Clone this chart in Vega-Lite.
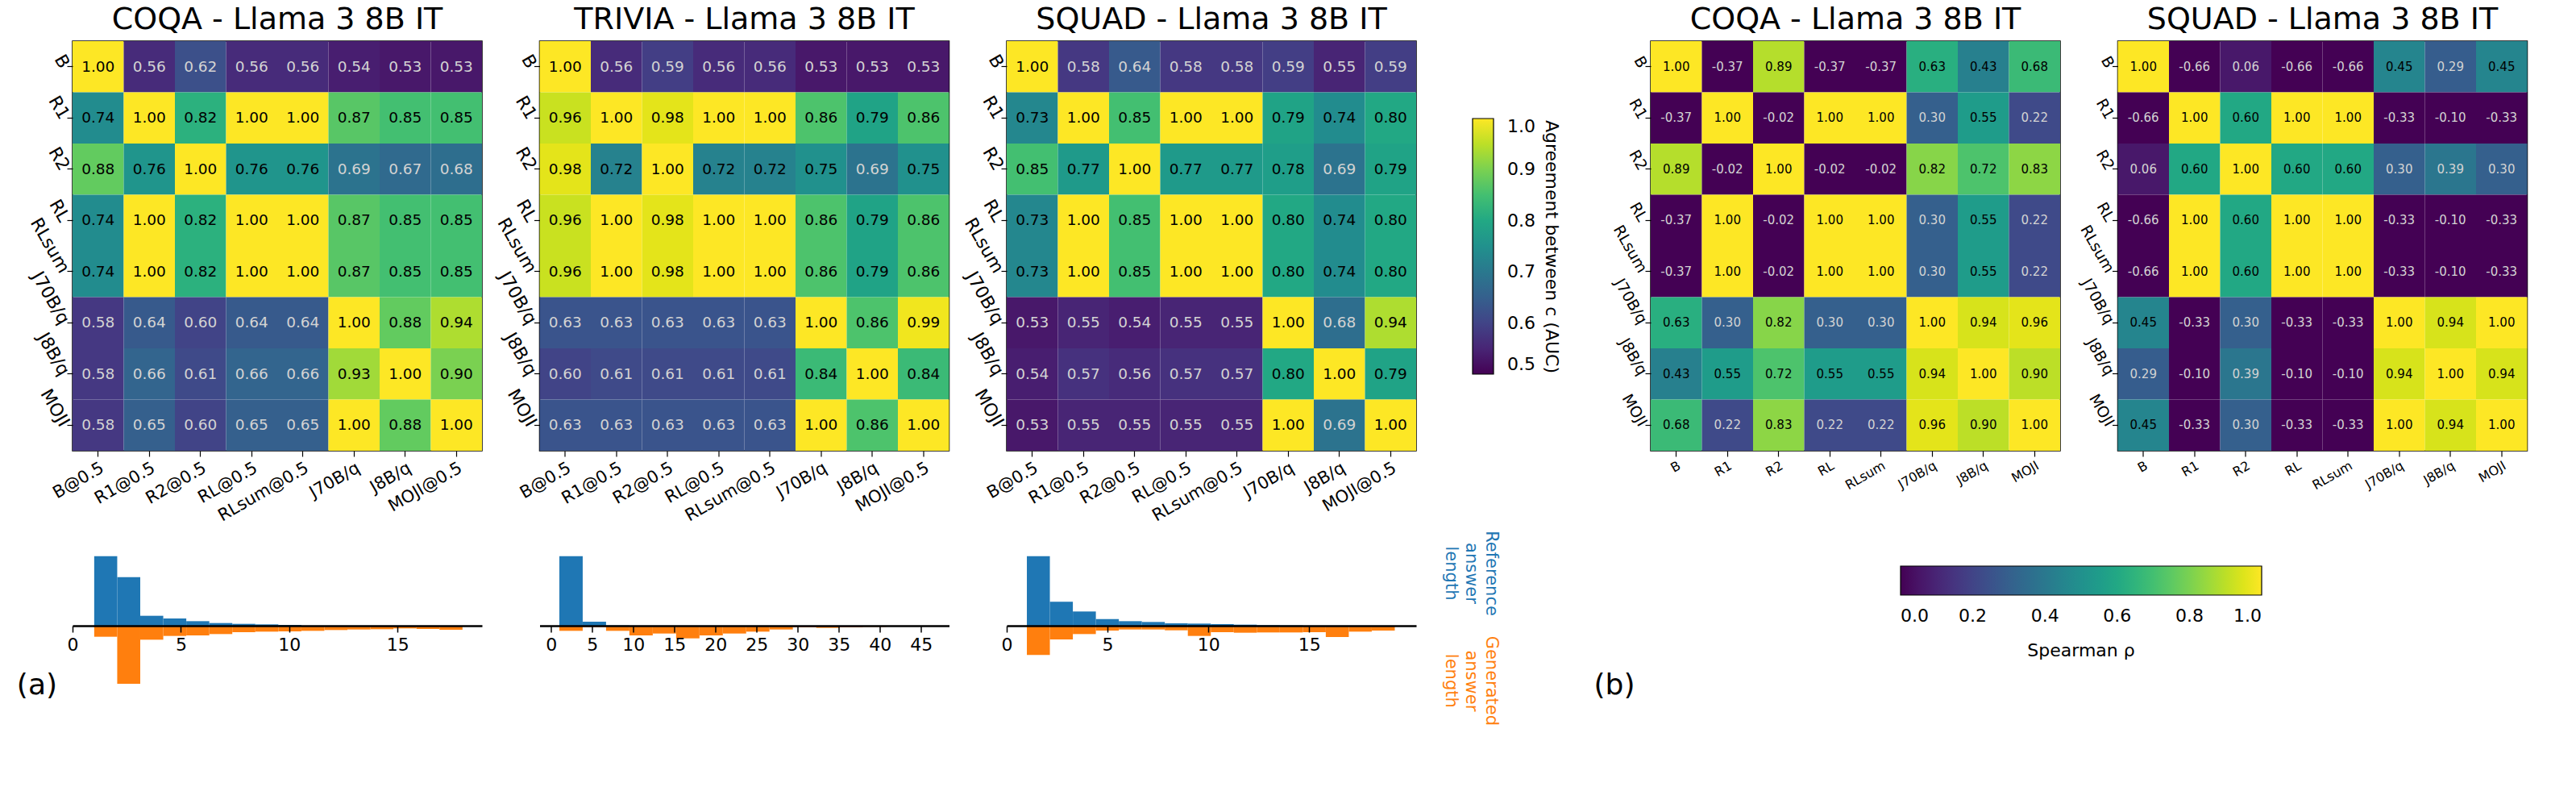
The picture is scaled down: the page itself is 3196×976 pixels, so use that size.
{
"$schema": "https://vega.github.io/schema/vega-lite/v6.json",
"background": "white",
"padding": {"left": 20, "top": 5, "right": 5, "bottom": 5},
"config": {
 "font": "DejaVu Sans",
 "view": {"stroke": "black", "strokeWidth": 1.5},
 "axis": {"labelFont": "DejaVu Sans", "labelColor": "black", "tickColor": "black", "domainColor": "black", "grid": false},
 "legend": {"labelFont": "DejaVu Sans", "titleFont": "DejaVu Sans", "labelColor": "black", "titleColor": "black"},
 "title": {"font": "DejaVu Sans", "fontWeight": "normal", "color": "black"},
 "text": {"font": "DejaVu Sans"},
 "locale": {"number": {"decimal": ".", "thousands": ",", "grouping": [3], "currency": ["$", ""], "minus": "-"}}
},
"datasets": {
 "coqa_auc": [
  {"r":"B","c":"B@0.5","v":1.00},{"r":"B","c":"R1@0.5","v":0.56},{"r":"B","c":"R2@0.5","v":0.62},{"r":"B","c":"RL@0.5","v":0.56},{"r":"B","c":"RLsum@0.5","v":0.56},{"r":"B","c":"J70B/q","v":0.54},{"r":"B","c":"J8B/q","v":0.53},{"r":"B","c":"MOJI@0.5","v":0.53},
  {"r":"R1","c":"B@0.5","v":0.74},{"r":"R1","c":"R1@0.5","v":1.00},{"r":"R1","c":"R2@0.5","v":0.82},{"r":"R1","c":"RL@0.5","v":1.00},{"r":"R1","c":"RLsum@0.5","v":1.00},{"r":"R1","c":"J70B/q","v":0.87},{"r":"R1","c":"J8B/q","v":0.85},{"r":"R1","c":"MOJI@0.5","v":0.85},
  {"r":"R2","c":"B@0.5","v":0.88},{"r":"R2","c":"R1@0.5","v":0.76},{"r":"R2","c":"R2@0.5","v":1.00},{"r":"R2","c":"RL@0.5","v":0.76},{"r":"R2","c":"RLsum@0.5","v":0.76},{"r":"R2","c":"J70B/q","v":0.69},{"r":"R2","c":"J8B/q","v":0.67},{"r":"R2","c":"MOJI@0.5","v":0.68},
  {"r":"RL","c":"B@0.5","v":0.74},{"r":"RL","c":"R1@0.5","v":1.00},{"r":"RL","c":"R2@0.5","v":0.82},{"r":"RL","c":"RL@0.5","v":1.00},{"r":"RL","c":"RLsum@0.5","v":1.00},{"r":"RL","c":"J70B/q","v":0.87},{"r":"RL","c":"J8B/q","v":0.85},{"r":"RL","c":"MOJI@0.5","v":0.85},
  {"r":"RLsum","c":"B@0.5","v":0.74},{"r":"RLsum","c":"R1@0.5","v":1.00},{"r":"RLsum","c":"R2@0.5","v":0.82},{"r":"RLsum","c":"RL@0.5","v":1.00},{"r":"RLsum","c":"RLsum@0.5","v":1.00},{"r":"RLsum","c":"J70B/q","v":0.87},{"r":"RLsum","c":"J8B/q","v":0.85},{"r":"RLsum","c":"MOJI@0.5","v":0.85},
  {"r":"J70B/q","c":"B@0.5","v":0.58},{"r":"J70B/q","c":"R1@0.5","v":0.64},{"r":"J70B/q","c":"R2@0.5","v":0.60},{"r":"J70B/q","c":"RL@0.5","v":0.64},{"r":"J70B/q","c":"RLsum@0.5","v":0.64},{"r":"J70B/q","c":"J70B/q","v":1.00},{"r":"J70B/q","c":"J8B/q","v":0.88},{"r":"J70B/q","c":"MOJI@0.5","v":0.94},
  {"r":"J8B/q","c":"B@0.5","v":0.58},{"r":"J8B/q","c":"R1@0.5","v":0.66},{"r":"J8B/q","c":"R2@0.5","v":0.61},{"r":"J8B/q","c":"RL@0.5","v":0.66},{"r":"J8B/q","c":"RLsum@0.5","v":0.66},{"r":"J8B/q","c":"J70B/q","v":0.93},{"r":"J8B/q","c":"J8B/q","v":1.00},{"r":"J8B/q","c":"MOJI@0.5","v":0.90},
  {"r":"MOJI","c":"B@0.5","v":0.58},{"r":"MOJI","c":"R1@0.5","v":0.65},{"r":"MOJI","c":"R2@0.5","v":0.60},{"r":"MOJI","c":"RL@0.5","v":0.65},{"r":"MOJI","c":"RLsum@0.5","v":0.65},{"r":"MOJI","c":"J70B/q","v":1.00},{"r":"MOJI","c":"J8B/q","v":0.88},{"r":"MOJI","c":"MOJI@0.5","v":1.00}
 ],
 "trivia_auc": [
  {"r":"B","c":"B@0.5","v":1.00},{"r":"B","c":"R1@0.5","v":0.56},{"r":"B","c":"R2@0.5","v":0.59},{"r":"B","c":"RL@0.5","v":0.56},{"r":"B","c":"RLsum@0.5","v":0.56},{"r":"B","c":"J70B/q","v":0.53},{"r":"B","c":"J8B/q","v":0.53},{"r":"B","c":"MOJI@0.5","v":0.53},
  {"r":"R1","c":"B@0.5","v":0.96},{"r":"R1","c":"R1@0.5","v":1.00},{"r":"R1","c":"R2@0.5","v":0.98},{"r":"R1","c":"RL@0.5","v":1.00},{"r":"R1","c":"RLsum@0.5","v":1.00},{"r":"R1","c":"J70B/q","v":0.86},{"r":"R1","c":"J8B/q","v":0.79},{"r":"R1","c":"MOJI@0.5","v":0.86},
  {"r":"R2","c":"B@0.5","v":0.98},{"r":"R2","c":"R1@0.5","v":0.72},{"r":"R2","c":"R2@0.5","v":1.00},{"r":"R2","c":"RL@0.5","v":0.72},{"r":"R2","c":"RLsum@0.5","v":0.72},{"r":"R2","c":"J70B/q","v":0.75},{"r":"R2","c":"J8B/q","v":0.69},{"r":"R2","c":"MOJI@0.5","v":0.75},
  {"r":"RL","c":"B@0.5","v":0.96},{"r":"RL","c":"R1@0.5","v":1.00},{"r":"RL","c":"R2@0.5","v":0.98},{"r":"RL","c":"RL@0.5","v":1.00},{"r":"RL","c":"RLsum@0.5","v":1.00},{"r":"RL","c":"J70B/q","v":0.86},{"r":"RL","c":"J8B/q","v":0.79},{"r":"RL","c":"MOJI@0.5","v":0.86},
  {"r":"RLsum","c":"B@0.5","v":0.96},{"r":"RLsum","c":"R1@0.5","v":1.00},{"r":"RLsum","c":"R2@0.5","v":0.98},{"r":"RLsum","c":"RL@0.5","v":1.00},{"r":"RLsum","c":"RLsum@0.5","v":1.00},{"r":"RLsum","c":"J70B/q","v":0.86},{"r":"RLsum","c":"J8B/q","v":0.79},{"r":"RLsum","c":"MOJI@0.5","v":0.86},
  {"r":"J70B/q","c":"B@0.5","v":0.63},{"r":"J70B/q","c":"R1@0.5","v":0.63},{"r":"J70B/q","c":"R2@0.5","v":0.63},{"r":"J70B/q","c":"RL@0.5","v":0.63},{"r":"J70B/q","c":"RLsum@0.5","v":0.63},{"r":"J70B/q","c":"J70B/q","v":1.00},{"r":"J70B/q","c":"J8B/q","v":0.86},{"r":"J70B/q","c":"MOJI@0.5","v":0.99},
  {"r":"J8B/q","c":"B@0.5","v":0.60},{"r":"J8B/q","c":"R1@0.5","v":0.61},{"r":"J8B/q","c":"R2@0.5","v":0.61},{"r":"J8B/q","c":"RL@0.5","v":0.61},{"r":"J8B/q","c":"RLsum@0.5","v":0.61},{"r":"J8B/q","c":"J70B/q","v":0.84},{"r":"J8B/q","c":"J8B/q","v":1.00},{"r":"J8B/q","c":"MOJI@0.5","v":0.84},
  {"r":"MOJI","c":"B@0.5","v":0.63},{"r":"MOJI","c":"R1@0.5","v":0.63},{"r":"MOJI","c":"R2@0.5","v":0.63},{"r":"MOJI","c":"RL@0.5","v":0.63},{"r":"MOJI","c":"RLsum@0.5","v":0.63},{"r":"MOJI","c":"J70B/q","v":1.00},{"r":"MOJI","c":"J8B/q","v":0.86},{"r":"MOJI","c":"MOJI@0.5","v":1.00}
 ],
 "squad_auc": [
  {"r":"B","c":"B@0.5","v":1.00},{"r":"B","c":"R1@0.5","v":0.58},{"r":"B","c":"R2@0.5","v":0.64},{"r":"B","c":"RL@0.5","v":0.58},{"r":"B","c":"RLsum@0.5","v":0.58},{"r":"B","c":"J70B/q","v":0.59},{"r":"B","c":"J8B/q","v":0.55},{"r":"B","c":"MOJI@0.5","v":0.59},
  {"r":"R1","c":"B@0.5","v":0.73},{"r":"R1","c":"R1@0.5","v":1.00},{"r":"R1","c":"R2@0.5","v":0.85},{"r":"R1","c":"RL@0.5","v":1.00},{"r":"R1","c":"RLsum@0.5","v":1.00},{"r":"R1","c":"J70B/q","v":0.79},{"r":"R1","c":"J8B/q","v":0.74},{"r":"R1","c":"MOJI@0.5","v":0.80},
  {"r":"R2","c":"B@0.5","v":0.85},{"r":"R2","c":"R1@0.5","v":0.77},{"r":"R2","c":"R2@0.5","v":1.00},{"r":"R2","c":"RL@0.5","v":0.77},{"r":"R2","c":"RLsum@0.5","v":0.77},{"r":"R2","c":"J70B/q","v":0.78},{"r":"R2","c":"J8B/q","v":0.69},{"r":"R2","c":"MOJI@0.5","v":0.79},
  {"r":"RL","c":"B@0.5","v":0.73},{"r":"RL","c":"R1@0.5","v":1.00},{"r":"RL","c":"R2@0.5","v":0.85},{"r":"RL","c":"RL@0.5","v":1.00},{"r":"RL","c":"RLsum@0.5","v":1.00},{"r":"RL","c":"J70B/q","v":0.80},{"r":"RL","c":"J8B/q","v":0.74},{"r":"RL","c":"MOJI@0.5","v":0.80},
  {"r":"RLsum","c":"B@0.5","v":0.73},{"r":"RLsum","c":"R1@0.5","v":1.00},{"r":"RLsum","c":"R2@0.5","v":0.85},{"r":"RLsum","c":"RL@0.5","v":1.00},{"r":"RLsum","c":"RLsum@0.5","v":1.00},{"r":"RLsum","c":"J70B/q","v":0.80},{"r":"RLsum","c":"J8B/q","v":0.74},{"r":"RLsum","c":"MOJI@0.5","v":0.80},
  {"r":"J70B/q","c":"B@0.5","v":0.53},{"r":"J70B/q","c":"R1@0.5","v":0.55},{"r":"J70B/q","c":"R2@0.5","v":0.54},{"r":"J70B/q","c":"RL@0.5","v":0.55},{"r":"J70B/q","c":"RLsum@0.5","v":0.55},{"r":"J70B/q","c":"J70B/q","v":1.00},{"r":"J70B/q","c":"J8B/q","v":0.68},{"r":"J70B/q","c":"MOJI@0.5","v":0.94},
  {"r":"J8B/q","c":"B@0.5","v":0.54},{"r":"J8B/q","c":"R1@0.5","v":0.57},{"r":"J8B/q","c":"R2@0.5","v":0.56},{"r":"J8B/q","c":"RL@0.5","v":0.57},{"r":"J8B/q","c":"RLsum@0.5","v":0.57},{"r":"J8B/q","c":"J70B/q","v":0.80},{"r":"J8B/q","c":"J8B/q","v":1.00},{"r":"J8B/q","c":"MOJI@0.5","v":0.79},
  {"r":"MOJI","c":"B@0.5","v":0.53},{"r":"MOJI","c":"R1@0.5","v":0.55},{"r":"MOJI","c":"R2@0.5","v":0.55},{"r":"MOJI","c":"RL@0.5","v":0.55},{"r":"MOJI","c":"RLsum@0.5","v":0.55},{"r":"MOJI","c":"J70B/q","v":1.00},{"r":"MOJI","c":"J8B/q","v":0.69},{"r":"MOJI","c":"MOJI@0.5","v":1.00}
 ],
 "coqa_rho": [
  {"r":"B","c":"B","v":1.00},{"r":"B","c":"R1","v":-0.37},{"r":"B","c":"R2","v":0.89},{"r":"B","c":"RL","v":-0.37},{"r":"B","c":"RLsum","v":-0.37},{"r":"B","c":"J70B/q","v":0.63},{"r":"B","c":"J8B/q","v":0.43},{"r":"B","c":"MOJI","v":0.68},
  {"r":"R1","c":"B","v":-0.37},{"r":"R1","c":"R1","v":1.00},{"r":"R1","c":"R2","v":-0.02},{"r":"R1","c":"RL","v":1.00},{"r":"R1","c":"RLsum","v":1.00},{"r":"R1","c":"J70B/q","v":0.30},{"r":"R1","c":"J8B/q","v":0.55},{"r":"R1","c":"MOJI","v":0.22},
  {"r":"R2","c":"B","v":0.89},{"r":"R2","c":"R1","v":-0.02},{"r":"R2","c":"R2","v":1.00},{"r":"R2","c":"RL","v":-0.02},{"r":"R2","c":"RLsum","v":-0.02},{"r":"R2","c":"J70B/q","v":0.82},{"r":"R2","c":"J8B/q","v":0.72},{"r":"R2","c":"MOJI","v":0.83},
  {"r":"RL","c":"B","v":-0.37},{"r":"RL","c":"R1","v":1.00},{"r":"RL","c":"R2","v":-0.02},{"r":"RL","c":"RL","v":1.00},{"r":"RL","c":"RLsum","v":1.00},{"r":"RL","c":"J70B/q","v":0.30},{"r":"RL","c":"J8B/q","v":0.55},{"r":"RL","c":"MOJI","v":0.22},
  {"r":"RLsum","c":"B","v":-0.37},{"r":"RLsum","c":"R1","v":1.00},{"r":"RLsum","c":"R2","v":-0.02},{"r":"RLsum","c":"RL","v":1.00},{"r":"RLsum","c":"RLsum","v":1.00},{"r":"RLsum","c":"J70B/q","v":0.30},{"r":"RLsum","c":"J8B/q","v":0.55},{"r":"RLsum","c":"MOJI","v":0.22},
  {"r":"J70B/q","c":"B","v":0.63},{"r":"J70B/q","c":"R1","v":0.30},{"r":"J70B/q","c":"R2","v":0.82},{"r":"J70B/q","c":"RL","v":0.30},{"r":"J70B/q","c":"RLsum","v":0.30},{"r":"J70B/q","c":"J70B/q","v":1.00},{"r":"J70B/q","c":"J8B/q","v":0.94},{"r":"J70B/q","c":"MOJI","v":0.96},
  {"r":"J8B/q","c":"B","v":0.43},{"r":"J8B/q","c":"R1","v":0.55},{"r":"J8B/q","c":"R2","v":0.72},{"r":"J8B/q","c":"RL","v":0.55},{"r":"J8B/q","c":"RLsum","v":0.55},{"r":"J8B/q","c":"J70B/q","v":0.94},{"r":"J8B/q","c":"J8B/q","v":1.00},{"r":"J8B/q","c":"MOJI","v":0.90},
  {"r":"MOJI","c":"B","v":0.68},{"r":"MOJI","c":"R1","v":0.22},{"r":"MOJI","c":"R2","v":0.83},{"r":"MOJI","c":"RL","v":0.22},{"r":"MOJI","c":"RLsum","v":0.22},{"r":"MOJI","c":"J70B/q","v":0.96},{"r":"MOJI","c":"J8B/q","v":0.90},{"r":"MOJI","c":"MOJI","v":1.00}
 ],
 "squad_rho": [
  {"r":"B","c":"B","v":1.00},{"r":"B","c":"R1","v":-0.66},{"r":"B","c":"R2","v":0.06},{"r":"B","c":"RL","v":-0.66},{"r":"B","c":"RLsum","v":-0.66},{"r":"B","c":"J70B/q","v":0.45},{"r":"B","c":"J8B/q","v":0.29},{"r":"B","c":"MOJI","v":0.45},
  {"r":"R1","c":"B","v":-0.66},{"r":"R1","c":"R1","v":1.00},{"r":"R1","c":"R2","v":0.60},{"r":"R1","c":"RL","v":1.00},{"r":"R1","c":"RLsum","v":1.00},{"r":"R1","c":"J70B/q","v":-0.33},{"r":"R1","c":"J8B/q","v":-0.10},{"r":"R1","c":"MOJI","v":-0.33},
  {"r":"R2","c":"B","v":0.06},{"r":"R2","c":"R1","v":0.60},{"r":"R2","c":"R2","v":1.00},{"r":"R2","c":"RL","v":0.60},{"r":"R2","c":"RLsum","v":0.60},{"r":"R2","c":"J70B/q","v":0.30},{"r":"R2","c":"J8B/q","v":0.39},{"r":"R2","c":"MOJI","v":0.30},
  {"r":"RL","c":"B","v":-0.66},{"r":"RL","c":"R1","v":1.00},{"r":"RL","c":"R2","v":0.60},{"r":"RL","c":"RL","v":1.00},{"r":"RL","c":"RLsum","v":1.00},{"r":"RL","c":"J70B/q","v":-0.33},{"r":"RL","c":"J8B/q","v":-0.10},{"r":"RL","c":"MOJI","v":-0.33},
  {"r":"RLsum","c":"B","v":-0.66},{"r":"RLsum","c":"R1","v":1.00},{"r":"RLsum","c":"R2","v":0.60},{"r":"RLsum","c":"RL","v":1.00},{"r":"RLsum","c":"RLsum","v":1.00},{"r":"RLsum","c":"J70B/q","v":-0.33},{"r":"RLsum","c":"J8B/q","v":-0.10},{"r":"RLsum","c":"MOJI","v":-0.33},
  {"r":"J70B/q","c":"B","v":0.45},{"r":"J70B/q","c":"R1","v":-0.33},{"r":"J70B/q","c":"R2","v":0.30},{"r":"J70B/q","c":"RL","v":-0.33},{"r":"J70B/q","c":"RLsum","v":-0.33},{"r":"J70B/q","c":"J70B/q","v":1.00},{"r":"J70B/q","c":"J8B/q","v":0.94},{"r":"J70B/q","c":"MOJI","v":1.00},
  {"r":"J8B/q","c":"B","v":0.29},{"r":"J8B/q","c":"R1","v":-0.10},{"r":"J8B/q","c":"R2","v":0.39},{"r":"J8B/q","c":"RL","v":-0.10},{"r":"J8B/q","c":"RLsum","v":-0.10},{"r":"J8B/q","c":"J70B/q","v":0.94},{"r":"J8B/q","c":"J8B/q","v":1.00},{"r":"J8B/q","c":"MOJI","v":0.94},
  {"r":"MOJI","c":"B","v":0.45},{"r":"MOJI","c":"R1","v":-0.33},{"r":"MOJI","c":"R2","v":0.30},{"r":"MOJI","c":"RL","v":-0.33},{"r":"MOJI","c":"RLsum","v":-0.33},{"r":"MOJI","c":"J70B/q","v":1.00},{"r":"MOJI","c":"J8B/q","v":0.94},{"r":"MOJI","c":"MOJI","v":1.00}
 ],
 "hist_coqa": [
  {"s":"Reference","x0":1.0,"x1":2.0625,"h":259},{"s":"Reference","x0":2.0625,"x1":3.125,"h":181},{"s":"Reference","x0":3.125,"x1":4.1875,"h":37},{"s":"Reference","x0":4.1875,"x1":5.25,"h":27},{"s":"Reference","x0":5.25,"x1":6.3125,"h":17},{"s":"Reference","x0":6.3125,"x1":7.375,"h":10},{"s":"Reference","x0":7.375,"x1":8.4375,"h":7},{"s":"Reference","x0":8.4375,"x1":9.5,"h":5},{"s":"Reference","x0":9.5,"x1":10.5625,"h":3},
  {"s":"Generated","x0":1.0,"x1":2.0625,"h":-41},{"s":"Generated","x0":2.0625,"x1":3.125,"h":-216},{"s":"Generated","x0":3.125,"x1":4.1875,"h":-52},{"s":"Generated","x0":4.1875,"x1":5.25,"h":-38},{"s":"Generated","x0":5.25,"x1":6.3125,"h":-36},{"s":"Generated","x0":6.3125,"x1":7.375,"h":-31},{"s":"Generated","x0":7.375,"x1":8.4375,"h":-24},{"s":"Generated","x0":8.4375,"x1":9.5,"h":-22},{"s":"Generated","x0":9.5,"x1":10.5625,"h":-21},{"s":"Generated","x0":10.5625,"x1":11.625,"h":-19},{"s":"Generated","x0":11.625,"x1":12.6875,"h":-16},{"s":"Generated","x0":12.6875,"x1":13.75,"h":-14},{"s":"Generated","x0":13.75,"x1":14.8125,"h":-13},{"s":"Generated","x0":14.8125,"x1":15.875,"h":-10},{"s":"Generated","x0":15.875,"x1":16.9375,"h":-12},{"s":"Generated","x0":16.9375,"x1":18.0,"h":-15}
 ],
 "hist_trivia": [
  {"s":"Reference","x0":1.0,"x1":3.84,"h":259},{"s":"Reference","x0":3.84,"x1":6.68,"h":15},{"s":"Reference","x0":6.68,"x1":9.52,"h":1},
  {"s":"Generated","x0":1.0,"x1":3.84,"h":-19},{"s":"Generated","x0":3.84,"x1":6.68,"h":-5},{"s":"Generated","x0":6.68,"x1":9.52,"h":-19},{"s":"Generated","x0":9.52,"x1":12.36,"h":-36},{"s":"Generated","x0":12.36,"x1":15.2,"h":-29},{"s":"Generated","x0":15.2,"x1":18.04,"h":-47},{"s":"Generated","x0":18.04,"x1":20.88,"h":-36},{"s":"Generated","x0":20.88,"x1":23.72,"h":-29},{"s":"Generated","x0":23.72,"x1":26.56,"h":-22},{"s":"Generated","x0":26.56,"x1":29.4,"h":-14},{"s":"Generated","x0":29.4,"x1":32.24,"h":-6},{"s":"Generated","x0":32.24,"x1":35.08,"h":-8},{"s":"Generated","x0":35.08,"x1":37.92,"h":-6},{"s":"Generated","x0":37.92,"x1":40.76,"h":-4},{"s":"Generated","x0":40.76,"x1":43.6,"h":-3},{"s":"Generated","x0":43.6,"x1":46.44,"h":-2}
 ],
 "hist_squad": [
  {"s":"Reference","x0":1.0,"x1":2.14,"h":259},{"s":"Reference","x0":2.14,"x1":3.28,"h":89},{"s":"Reference","x0":3.28,"x1":4.42,"h":53},{"s":"Reference","x0":4.42,"x1":5.56,"h":25},{"s":"Reference","x0":5.56,"x1":6.7,"h":17},{"s":"Reference","x0":6.7,"x1":7.84,"h":14},{"s":"Reference","x0":7.84,"x1":8.98,"h":9},{"s":"Reference","x0":8.98,"x1":10.12,"h":8},{"s":"Reference","x0":10.12,"x1":11.26,"h":6},{"s":"Reference","x0":11.26,"x1":12.4,"h":4},{"s":"Reference","x0":12.4,"x1":13.54,"h":2},{"s":"Reference","x0":13.54,"x1":14.68,"h":1},
  {"s":"Generated","x0":1.0,"x1":2.14,"h":-109},{"s":"Generated","x0":2.14,"x1":3.28,"h":-51},{"s":"Generated","x0":3.28,"x1":4.42,"h":-31},{"s":"Generated","x0":4.42,"x1":5.56,"h":-18},{"s":"Generated","x0":5.56,"x1":6.7,"h":-14},{"s":"Generated","x0":6.7,"x1":7.84,"h":-14},{"s":"Generated","x0":7.84,"x1":8.98,"h":-17},{"s":"Generated","x0":8.98,"x1":10.12,"h":-38},{"s":"Generated","x0":10.12,"x1":11.26,"h":-24},{"s":"Generated","x0":11.26,"x1":12.4,"h":-26},{"s":"Generated","x0":12.4,"x1":13.54,"h":-25},{"s":"Generated","x0":13.54,"x1":14.68,"h":-25},{"s":"Generated","x0":14.68,"x1":15.82,"h":-24},{"s":"Generated","x0":15.82,"x1":16.96,"h":-42},{"s":"Generated","x0":16.96,"x1":18.1,"h":-22},{"s":"Generated","x0":18.1,"x1":19.24,"h":-18}
 ]
},
"columns": 6,
"bounds": "flush",
"align": "each",
"spacing": {"row": 121, "column": 71.5},
"resolve": {"scale": {"color": "independent"}},
"concat": [
 {
  "width": 508, "height": 508,
  "title": {"text": "COQA - Llama 3 8B IT", "fontSize": 38, "frame": "group", "offset": -23, "baseline": "alphabetic"},
  "data": {"name": "coqa_auc"},
  "encoding": {
   "x": {"field": "c", "type": "nominal", "title": null, "scale": {"domain": ["B@0.5","R1@0.5","R2@0.5","RL@0.5","RLsum@0.5","J70B/q","J8B/q","MOJI@0.5"], "paddingInner": 0, "paddingOuter": 0}, "axis": {"orient": "bottom", "labelAngle": -30, "labelAlign": "right", "labelBaseline": "top", "labelFontSize": 21, "tickSize": 7, "tickWidth": 1.2, "labelPadding": 3, "domain": false, "labelOverlap": false}},
   "y": {"field": "r", "type": "nominal", "title": null, "scale": {"domain": ["B","R1","R2","RL","RLsum","J70B/q","J8B/q","MOJI"], "paddingInner": 0, "paddingOuter": 0}, "axis": {"orient": "left", "labelAngle": 60, "labelAlign": "right", "labelBaseline": "middle", "labelFontSize": 22, "tickSize": 7, "tickWidth": 1.2, "labelPadding": 3, "domain": false, "labelOverlap": false}}
  },
  "layer": [
   {"mark": "rect", "encoding": {"color": {"field": "v", "type": "quantitative", "scale": {"scheme": "viridis", "domain": [0.5, 1], "clamp": true}, "legend": null}}},
   {"mark": {"type": "text", "fontSize": 18.5, "align": "center", "baseline": "middle"}, "encoding": {"text": {"field": "v", "type": "quantitative", "format": ".2f"}, "color": {"condition": {"test": "datum.v < 0.7", "value": "#d3d3d3"}, "value": "black"}}}
  ]
 },
 {
  "width": 508, "height": 508,
  "title": {"text": "TRIVIA - Llama 3 8B IT", "fontSize": 38, "frame": "group", "offset": -23, "baseline": "alphabetic"},
  "data": {"name": "trivia_auc"},
  "encoding": {
   "x": {"field": "c", "type": "nominal", "title": null, "scale": {"domain": ["B@0.5","R1@0.5","R2@0.5","RL@0.5","RLsum@0.5","J70B/q","J8B/q","MOJI@0.5"], "paddingInner": 0, "paddingOuter": 0}, "axis": {"orient": "bottom", "labelAngle": -30, "labelAlign": "right", "labelBaseline": "top", "labelFontSize": 21, "tickSize": 7, "tickWidth": 1.2, "labelPadding": 3, "domain": false, "labelOverlap": false}},
   "y": {"field": "r", "type": "nominal", "title": null, "scale": {"domain": ["B","R1","R2","RL","RLsum","J70B/q","J8B/q","MOJI"], "paddingInner": 0, "paddingOuter": 0}, "axis": {"orient": "left", "labelAngle": 60, "labelAlign": "right", "labelBaseline": "middle", "labelFontSize": 22, "tickSize": 7, "tickWidth": 1.2, "labelPadding": 3, "domain": false, "labelOverlap": false}}
  },
  "layer": [
   {"mark": "rect", "encoding": {"color": {"field": "v", "type": "quantitative", "scale": {"scheme": "viridis", "domain": [0.5, 1], "clamp": true}, "legend": null}}},
   {"mark": {"type": "text", "fontSize": 18.5, "align": "center", "baseline": "middle"}, "encoding": {"text": {"field": "v", "type": "quantitative", "format": ".2f"}, "color": {"condition": {"test": "datum.v < 0.7", "value": "#d3d3d3"}, "value": "black"}}}
  ]
 },
 {
  "width": 508, "height": 508,
  "title": {"text": "SQUAD - Llama 3 8B IT", "fontSize": 38, "frame": "group", "offset": -23, "baseline": "alphabetic"},
  "data": {"name": "squad_auc"},
  "encoding": {
   "x": {"field": "c", "type": "nominal", "title": null, "scale": {"domain": ["B@0.5","R1@0.5","R2@0.5","RL@0.5","RLsum@0.5","J70B/q","J8B/q","MOJI@0.5"], "paddingInner": 0, "paddingOuter": 0}, "axis": {"orient": "bottom", "labelAngle": -30, "labelAlign": "right", "labelBaseline": "top", "labelFontSize": 21, "tickSize": 7, "tickWidth": 1.2, "labelPadding": 3, "domain": false, "labelOverlap": false}},
   "y": {"field": "r", "type": "nominal", "title": null, "scale": {"domain": ["B","R1","R2","RL","RLsum","J70B/q","J8B/q","MOJI"], "paddingInner": 0, "paddingOuter": 0}, "axis": {"orient": "left", "labelAngle": 60, "labelAlign": "right", "labelBaseline": "middle", "labelFontSize": 22, "tickSize": 7, "tickWidth": 1.2, "labelPadding": 3, "domain": false, "labelOverlap": false}}
  },
  "layer": [
   {"mark": "rect", "encoding": {"color": {"field": "v", "type": "quantitative", "scale": {"scheme": "viridis", "domain": [0.5, 1], "clamp": true}, "legend": {"orient": "none", "legendX": 578, "legendY": 96, "direction": "vertical", "gradientLength": 317, "gradientThickness": 26, "title": "Agreement between c (AUC)", "titleOrient": "right", "titleAngle": 90, "titleAnchor": "middle", "titleLimit": 600, "titleFontSize": 22, "titleFontWeight": "normal", "titlePadding": 8, "labelFontSize": 22, "labelOffset": 17, "labelBaseline": "middle", "values": [0.5, 0.6, 0.7, 0.8, 0.9, 1.0], "format": ".1f", "labelOverlap": false, "gradientStrokeColor": "black", "gradientStrokeWidth": 1.2}}}},
   {"mark": {"type": "text", "fontSize": 18.5, "align": "center", "baseline": "middle"}, "encoding": {"text": {"field": "v", "type": "quantitative", "format": ".2f"}, "color": {"condition": {"test": "datum.v < 0.7", "value": "#d3d3d3"}, "value": "black"}}}
  ]
 },
 {
  "width": 148, "height": 508, "view": {"stroke": null},
  "data": {"values": []},
  "mark": {"type": "text"},
  "encoding": {}
 },
 {
  "width": 508, "height": 508,
  "title": {"text": "COQA - Llama 3 8B IT", "fontSize": 38, "frame": "group", "offset": -23, "baseline": "alphabetic"},
  "data": {"name": "coqa_rho"},
  "encoding": {
   "x": {"field": "c", "type": "nominal", "title": null, "scale": {"domain": ["B","R1","R2","RL","RLsum","J70B/q","J8B/q","MOJI"], "paddingInner": 0, "paddingOuter": 0}, "axis": {"orient": "bottom", "labelAngle": -30, "labelAlign": "right", "labelBaseline": "top", "labelFontSize": 16, "tickSize": 7, "tickWidth": 1.2, "labelPadding": 3, "domain": false, "labelOverlap": false}},
   "y": {"field": "r", "type": "nominal", "title": null, "scale": {"domain": ["B","R1","R2","RL","RLsum","J70B/q","J8B/q","MOJI"], "paddingInner": 0, "paddingOuter": 0}, "axis": {"orient": "left", "labelAngle": 60, "labelAlign": "right", "labelBaseline": "middle", "labelFontSize": 19, "tickSize": 7, "tickWidth": 1.2, "labelPadding": 3, "domain": false, "labelOverlap": false}}
  },
  "layer": [
   {"mark": "rect", "encoding": {"color": {"field": "v", "type": "quantitative", "scale": {"scheme": "viridis", "domain": [0, 1], "clamp": true}, "legend": {"orient": "none", "legendX": 310, "legendY": 651, "direction": "horizontal", "gradientLength": 448, "gradientThickness": 36, "title": "Spearman ρ", "titleOrient": "bottom", "titleAnchor": "middle", "titleFontSize": 22, "titleFontWeight": "normal", "titlePadding": 22, "labelFontSize": 22, "labelOffset": 16, "labelAlign": "center", "values": [0, 0.2, 0.4, 0.6, 0.8, 1.0], "format": ".1f", "labelOverlap": false, "gradientStrokeColor": "black", "gradientStrokeWidth": 1.2}}}},
   {"mark": {"type": "text", "fontSize": 15, "align": "center", "baseline": "middle"}, "encoding": {"text": {"field": "v", "type": "quantitative", "format": ".2f"}, "color": {"condition": {"test": "datum.v < 0.4", "value": "#d3d3d3"}, "value": "black"}}}
  ]
 },
 {
  "width": 508, "height": 508,
  "title": {"text": "SQUAD - Llama 3 8B IT", "fontSize": 38, "frame": "group", "offset": -23, "baseline": "alphabetic"},
  "data": {"name": "squad_rho"},
  "encoding": {
   "x": {"field": "c", "type": "nominal", "title": null, "scale": {"domain": ["B","R1","R2","RL","RLsum","J70B/q","J8B/q","MOJI"], "paddingInner": 0, "paddingOuter": 0}, "axis": {"orient": "bottom", "labelAngle": -30, "labelAlign": "right", "labelBaseline": "top", "labelFontSize": 16, "tickSize": 7, "tickWidth": 1.2, "labelPadding": 3, "domain": false, "labelOverlap": false}},
   "y": {"field": "r", "type": "nominal", "title": null, "scale": {"domain": ["B","R1","R2","RL","RLsum","J70B/q","J8B/q","MOJI"], "paddingInner": 0, "paddingOuter": 0}, "axis": {"orient": "left", "labelAngle": 60, "labelAlign": "right", "labelBaseline": "middle", "labelFontSize": 19, "tickSize": 7, "tickWidth": 1.2, "labelPadding": 3, "domain": false, "labelOverlap": false}}
  },
  "layer": [
   {"mark": "rect", "encoding": {"color": {"field": "v", "type": "quantitative", "scale": {"scheme": "viridis", "domain": [0, 1], "clamp": true}, "legend": null}}},
   {"mark": {"type": "text", "fontSize": 15, "align": "center", "baseline": "middle"}, "encoding": {"text": {"field": "v", "type": "quantitative", "format": ".2f"}, "color": {"condition": {"test": "datum.v < 0.4", "value": "#d3d3d3"}, "value": "black"}}}
  ]
 },
 {
  "width": 508, "height": 96, "view": {"stroke": null},
  "layer": [
   {"data": {"name": "hist_coqa"}, "mark": "rect", "encoding": {
    "x": {"field": "x0", "type": "quantitative", "scale": {"domain": [0, 18.9], "nice": false, "zero": false}, "axis": {"values": [0, 5, 10, 15], "title": null, "domain": true, "domainWidth": 2.5, "domainColor": "black", "ticks": true, "tickSize": 8, "tickWidth": 1.5, "labelFontSize": 22, "labelPadding": 5, "zindex": 1, "labelFlush": false, "labelOverlap": false, "grid": false}},
    "x2": {"field": "x1"},
    "y": {"field": "h", "type": "quantitative", "scale": {"domain": [0, 288], "nice": false}, "axis": null},
    "y2": {"datum": 0},
    "color": {"field": "s", "type": "nominal", "scale": {"domain": ["Reference", "Generated"], "range": ["#1f77b4", "#ff7f0e"]}, "legend": null}}},
   {"data": {"values": [{"label": "(a)"}]}, "mark": {"type": "text", "fontSize": 36, "align": "center", "baseline": "middle"}, "encoding": {"text": {"field": "label"}, "x": {"datum": -1.64}, "y": {"datum": -222}}}
  ]
 },
 {
  "width": 508, "height": 96, "view": {"stroke": null},
  "layer": [
   {"data": {"name": "hist_trivia"}, "mark": "rect", "encoding": {
    "x": {"field": "x0", "type": "quantitative", "scale": {"domain": [-1.4, 48.4], "nice": false, "zero": false}, "axis": {"values": [0, 5, 10, 15, 20, 25, 30, 35, 40, 45], "title": null, "domain": true, "domainWidth": 2.5, "domainColor": "black", "ticks": true, "tickSize": 8, "tickWidth": 1.5, "labelFontSize": 22, "labelPadding": 5, "zindex": 1, "labelFlush": false, "labelOverlap": false, "grid": false}},
    "x2": {"field": "x1"},
    "y": {"field": "h", "type": "quantitative", "scale": {"domain": [0, 288], "nice": false}, "axis": null},
    "y2": {"datum": 0},
    "color": {"field": "s", "type": "nominal", "scale": {"domain": ["Reference", "Generated"], "range": ["#1f77b4", "#ff7f0e"]}, "legend": null}}}
  ]
 },
 {
  "width": 508, "height": 96, "view": {"stroke": null},
  "layer": [
   {"data": {"name": "hist_squad"}, "mark": "rect", "encoding": {
    "x": {"field": "x0", "type": "quantitative", "scale": {"domain": [0, 20.3], "nice": false, "zero": false}, "axis": {"values": [0, 5, 10, 15], "title": null, "domain": true, "domainWidth": 2.5, "domainColor": "black", "ticks": true, "tickSize": 8, "tickWidth": 1.5, "labelFontSize": 22, "labelPadding": 5, "zindex": 1, "labelFlush": false, "labelOverlap": false, "grid": false}},
    "x2": {"field": "x1"},
    "y": {"field": "h", "type": "quantitative", "scale": {"domain": [0, 288], "nice": false}, "axis": null},
    "y2": {"datum": 0},
    "color": {"field": "s", "type": "nominal", "scale": {"domain": ["Reference", "Generated"], "range": ["#1f77b4", "#ff7f0e"]}, "legend": null}}},
   {"data": {"values": [{"label": "Reference\nanswer\nlength"}]}, "mark": {"type": "text", "fontSize": 21, "align": "center", "baseline": "middle", "angle": 90, "lineBreak": "\n", "lineHeight": 25, "color": "#1f77b4"}, "encoding": {"text": {"field": "label"}, "x": {"datum": 24.0}, "y": {"datum": 195}}},
   {"data": {"values": [{"label": "Generated\nanswer\nlength"}]}, "mark": {"type": "text", "fontSize": 21, "align": "center", "baseline": "middle", "angle": 90, "lineBreak": "\n", "lineHeight": 25, "color": "#ff7f0e"}, "encoding": {"text": {"field": "label"}, "x": {"datum": 24.0}, "y": {"datum": -205}}}
  ]
 },
 {
  "width": 148, "height": 96, "view": {"stroke": null},
  "data": {"values": [{"label": "(b)"}]},
  "mark": {"type": "text", "fontSize": 36, "align": "center", "baseline": "middle"},
  "encoding": {
   "text": {"field": "label"},
   "x": {"datum": 1.179, "type": "quantitative", "scale": {"domain": [0, 1], "nice": false, "zero": false}, "axis": null},
   "y": {"datum": -0.77, "type": "quantitative", "scale": {"domain": [0, 1], "nice": false, "zero": false}, "axis": null}
  }
 }
]
}
